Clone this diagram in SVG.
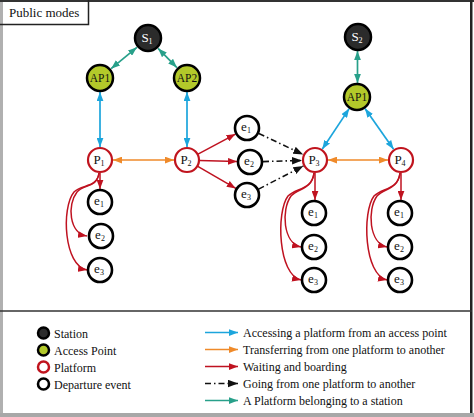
<svg xmlns="http://www.w3.org/2000/svg" width="474" height="417" viewBox="0 0 474 417">
<style>
text{font-family:"Liberation Serif","Times New Roman",serif;fill:#111}
.lbl{font-size:13px;text-anchor:middle}
.sub{font-size:8px}
.st{fill:#2b2b2b;stroke:#000;stroke-width:2.5}
.ap{fill:#b3c92a;stroke:#000;stroke-width:2.5}
.pf{fill:#fff;stroke:#c0141e;stroke-width:2.2}
.ev{fill:#fff;stroke:#000;stroke-width:2.6}
.blue{stroke:#1ca5dc;stroke-width:1.7;fill:none}
.orange{stroke:#ef8a2a;stroke-width:1.7;fill:none}
.red{stroke:#bf1220;stroke-width:1.5;fill:none}
.teal{stroke:#28a08a;stroke-width:1.7;fill:none}
.dash{stroke:#111;stroke-width:1.6;fill:none;stroke-dasharray:6 3 1.5 3}
.leg{font-size:12px}
</style>
<defs>
<marker id="mb" viewBox="0 0 8 6" refX="8" refY="3" markerWidth="9" markerHeight="7" markerUnits="userSpaceOnUse" orient="auto-start-reverse"><path d="M0,0L8,3L0,6z" fill="#1ca5dc"/></marker>
<marker id="mo" viewBox="0 0 8 6" refX="8" refY="3" markerWidth="9" markerHeight="7" markerUnits="userSpaceOnUse" orient="auto-start-reverse"><path d="M0,0L8,3L0,6z" fill="#ef8a2a"/></marker>
<marker id="mr" viewBox="0 0 8 6" refX="8" refY="3" markerWidth="9" markerHeight="7" markerUnits="userSpaceOnUse" orient="auto-start-reverse"><path d="M0,0L8,3L0,6z" fill="#bf1220"/></marker>
<marker id="mt" viewBox="0 0 8 6" refX="8" refY="3" markerWidth="9" markerHeight="7" markerUnits="userSpaceOnUse" orient="auto-start-reverse"><path d="M0,0L8,3L0,6z" fill="#28a08a"/></marker>
<marker id="mk" viewBox="0 0 8 6" refX="8" refY="3" markerWidth="10" markerHeight="8" markerUnits="userSpaceOnUse" orient="auto-start-reverse"><path d="M0,0L8,3L0,6z" fill="#111"/></marker>
</defs>
<rect x="0" y="0" width="474" height="417" fill="#fff"/>
<rect x="0" y="0" width="3" height="417" fill="#b0b0b0"/>
<rect x="0" y="413" width="474" height="4" fill="#a8a8a8"/>
<rect x="0" y="0" width="474" height="2" fill="#333"/>
<rect x="470" y="0" width="2.5" height="413" fill="#222"/>
<line x1="0" y1="311" x2="472" y2="311" stroke="#333" stroke-width="1.5"/>
<g id="title">
<path d="M0,24.5H88.5V0" fill="none" stroke="#222" stroke-width="1.5"/>
<text x="9" y="17" style="font-size:13px">Public modes</text>
</g>
<g id="connectors">
<line class="teal" x1="136.9" y1="47.3" x2="111.1" y2="68.7" marker-start="url(#mt)" marker-end="url(#mt)"/>
<line class="teal" x1="158.1" y1="48.4" x2="176.9" y2="67.6" marker-start="url(#mt)" marker-end="url(#mt)"/>
<line class="blue" x1="100" y1="92" x2="100" y2="147" marker-start="url(#mb)" marker-end="url(#mb)"/>
<line class="blue" x1="187" y1="92" x2="187" y2="147" marker-start="url(#mb)" marker-end="url(#mb)"/>
<line class="orange" x1="113" y1="160" x2="174" y2="160" marker-start="url(#mo)" marker-end="url(#mo)"/>
<line class="red" x1="198" y1="154.1" x2="235.5" y2="134.1" marker-end="url(#mr)"/>
<line class="red" x1="199.5" y1="160.4" x2="237" y2="161.6" marker-end="url(#mr)"/>
<line class="red" x1="197.8" y1="166.3" x2="235.8" y2="188.4" marker-end="url(#mr)"/>
<line class="dash" x1="258.8" y1="133.5" x2="303.2" y2="154.5" marker-end="url(#mk)"/>
<line class="dash" x1="263" y1="161.6" x2="302" y2="160.4" marker-end="url(#mk)"/>
<line class="dash" x1="258.6" y1="189.1" x2="303.4" y2="166" marker-end="url(#mk)"/>
<line class="teal" x1="357.5" y1="51" x2="357.5" y2="83" marker-start="url(#mt)" marker-end="url(#mt)"/>
<line class="blue" x1="349.2" y1="108.6" x2="322.2" y2="149.2" marker-start="url(#mb)" marker-end="url(#mb)"/>
<line class="blue" x1="365" y1="108.5" x2="393.6" y2="149.3" marker-start="url(#mb)" marker-end="url(#mb)"/>
<line class="orange" x1="328" y1="160" x2="388" y2="160" marker-start="url(#mo)" marker-end="url(#mo)"/>
<line class="red" x1="100" y1="173" x2="100" y2="189" marker-end="url(#mr)"/>
<path class="red" d="M99,173C97,188 84,184 77,192C67,205 69,233 87,236" marker-end="url(#mr)"/>
<path class="red" d="M99,173C97,188 82,184 74,192C61,208 64,266 87,270" marker-end="url(#mr)"/>
<line class="red" x1="315" y1="173" x2="315" y2="200" marker-end="url(#mr)"/>
<path class="red" d="M314,173C312,190 298,188 291,196C281,210 283,243 301,247" marker-end="url(#mr)"/>
<path class="red" d="M314,173C312,190 296,188 288,196C276,212 278,275 301,280" marker-end="url(#mr)"/>
<line class="red" x1="401" y1="173" x2="401" y2="200" marker-end="url(#mr)"/>
<path class="red" d="M400,173C398,190 384,188 377,196C367,210 369,243 387,247" marker-end="url(#mr)"/>
<path class="red" d="M400,173C398,190 382,188 374,196C362,212 364,275 387,280" marker-end="url(#mr)"/>
</g>
<g id="S1"><circle class="st" cx="148" cy="38" r="13"/><text class="lbl" x="147" y="42" style="fill:#fff">S<tspan class="sub" dy="2" style="fill:#fff">1</tspan></text></g>
<g id="AP1a"><circle class="ap" cx="100" cy="78" r="13"/><text class="lbl" x="100" y="82" style="font-size:11.5px">AP1</text></g>
<g id="AP2"><circle class="ap" cx="187" cy="78" r="13"/><text class="lbl" x="187" y="82" style="font-size:11.5px">AP2</text></g>
<g id="P1"><circle class="pf" cx="100" cy="160" r="12"/><text class="lbl" x="99" y="164">P<tspan class="sub" dy="2">1</tspan></text></g>
<g id="P2"><circle class="pf" cx="187" cy="160" r="12"/><text class="lbl" x="186" y="164">P<tspan class="sub" dy="2">2</tspan></text></g>
<g id="P1e1"><circle class="ev" cx="100" cy="202" r="12"/><text class="lbl" x="99" y="205">e<tspan class="sub" dy="2">1</tspan></text></g>
<g id="P1e2"><circle class="ev" cx="101" cy="236" r="12"/><text class="lbl" x="100" y="239">e<tspan class="sub" dy="2">2</tspan></text></g>
<g id="P1e3"><circle class="ev" cx="100" cy="270" r="12"/><text class="lbl" x="99" y="273">e<tspan class="sub" dy="2">3</tspan></text></g>
<g id="P2e1"><circle class="ev" cx="247" cy="128" r="12"/><text class="lbl" x="246" y="131">e<tspan class="sub" dy="2">1</tspan></text></g>
<g id="P2e2"><circle class="ev" cx="250" cy="162" r="12"/><text class="lbl" x="249" y="165">e<tspan class="sub" dy="2">2</tspan></text></g>
<g id="P2e3"><circle class="ev" cx="247" cy="195" r="12"/><text class="lbl" x="246" y="198">e<tspan class="sub" dy="2">3</tspan></text></g>
<g id="S2"><circle class="st" cx="358" cy="37" r="13"/><text class="lbl" x="357" y="41" style="fill:#fff">S<tspan class="sub" dy="2" style="fill:#fff">2</tspan></text></g>
<g id="AP1b"><circle class="ap" cx="357" cy="97" r="13"/><text class="lbl" x="357" y="101" style="font-size:11.5px">AP1</text></g>
<g id="P3"><circle class="pf" cx="315" cy="160" r="12"/><text class="lbl" x="314" y="164">P<tspan class="sub" dy="2">3</tspan></text></g>
<g id="P4"><circle class="pf" cx="401" cy="160" r="12"/><text class="lbl" x="400" y="164">P<tspan class="sub" dy="2">4</tspan></text></g>
<g id="P3e1"><circle class="ev" cx="314" cy="213" r="12"/><text class="lbl" x="313" y="216">e<tspan class="sub" dy="2">1</tspan></text></g>
<g id="P3e2"><circle class="ev" cx="314" cy="247" r="12"/><text class="lbl" x="313" y="250">e<tspan class="sub" dy="2">2</tspan></text></g>
<g id="P3e3"><circle class="ev" cx="314" cy="280" r="12"/><text class="lbl" x="313" y="283">e<tspan class="sub" dy="2">3</tspan></text></g>
<g id="P4e1"><circle class="ev" cx="400" cy="213" r="12"/><text class="lbl" x="399" y="216">e<tspan class="sub" dy="2">1</tspan></text></g>
<g id="P4e2"><circle class="ev" cx="400" cy="247" r="12"/><text class="lbl" x="399" y="250">e<tspan class="sub" dy="2">2</tspan></text></g>
<g id="P4e3"><circle class="ev" cx="400" cy="280" r="12"/><text class="lbl" x="399" y="283">e<tspan class="sub" dy="2">3</tspan></text></g>
<g id="legend">
<circle class="st" cx="43.5" cy="333" r="5.5"/>
<circle class="ap" cx="43.5" cy="350" r="5.5"/>
<circle class="pf" cx="43.5" cy="367" r="5.5" style="stroke-width:2.5"/>
<circle class="ev" cx="43.5" cy="384" r="5.5"/>
<text class="leg" x="54" y="338">Station</text>
<text class="leg" x="54" y="355">Access Point</text>
<text class="leg" x="54" y="372">Platform</text>
<text class="leg" x="54" y="389">Departure event</text>
<line class="blue" x1="205" y1="332.5" x2="238" y2="332.5" marker-end="url(#mb)"/>
<line class="orange" x1="205" y1="349.5" x2="238" y2="349.5" marker-end="url(#mo)"/>
<line class="red" x1="205" y1="366.5" x2="238" y2="366.5" marker-end="url(#mr)" style="stroke-width:1.7"/>
<line class="dash" x1="205" y1="383.5" x2="238" y2="383.5" marker-end="url(#mk)"/>
<line class="teal" x1="205" y1="400.5" x2="238" y2="400.5" marker-end="url(#mt)"/>
<text class="leg" x="243" y="337">Accessing a platform from an access point</text>
<text class="leg" x="243" y="354">Transferring from one platform to another</text>
<text class="leg" x="243" y="371">Waiting and boarding</text>
<text class="leg" x="243" y="388">Going from one platform to another</text>
<text class="leg" x="243" y="405">A Platform belonging to a station</text>
</g>
</svg>
